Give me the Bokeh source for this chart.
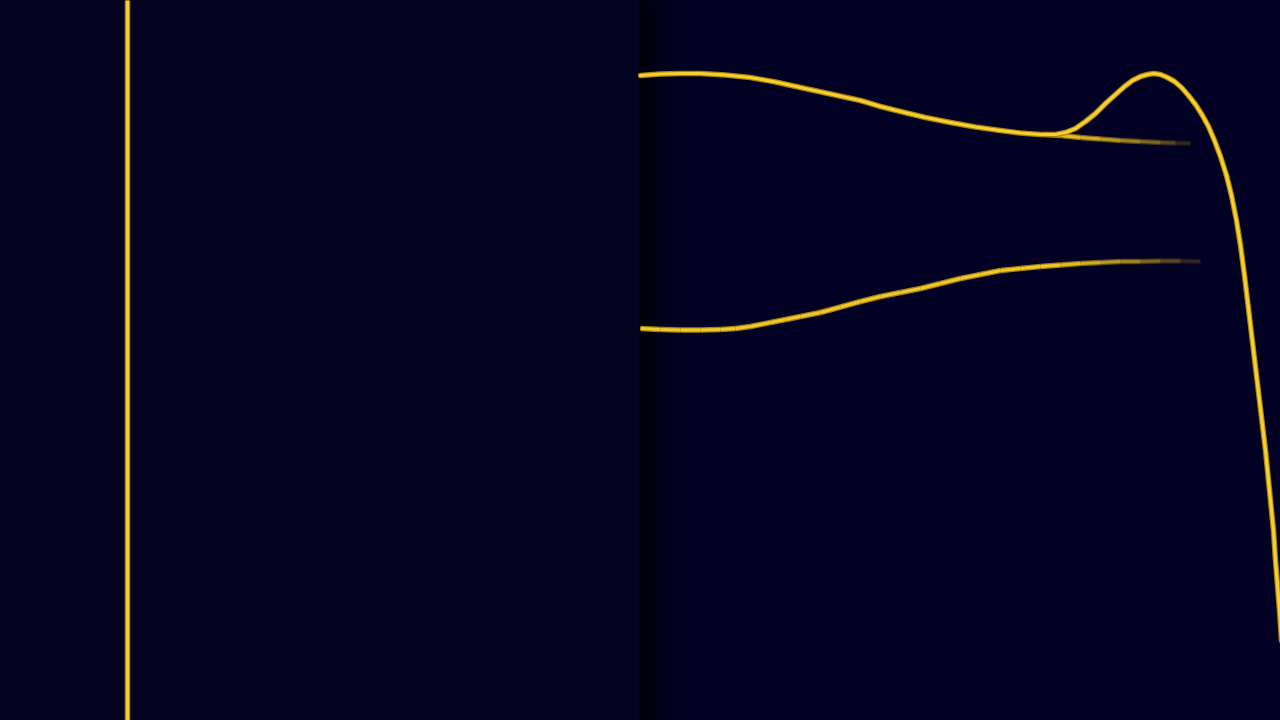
from bokeh.plotting import figure
from bokeh.models import Range1d
from bokeh.embed import file_html
from bokeh.resources import INLINE

# Data (screen-pixel coordinate system, y downward)
left_line_x = [127, 127]
left_line_y = [-5, 725]

upper_x = [640, 660, 680, 700, 725, 750, 775, 800, 830, 860, 880, 900, 925, 950, 975, 1000,
           1020, 1040, 1055, 1065, 1075, 1085, 1095, 1105, 1115, 1124, 1132, 1140, 1147, 1153,
           1160, 1167, 1174, 1181, 1188, 1195, 1202, 1208, 1214, 1220, 1226, 1231, 1236, 1240,
           1244, 1247, 1250, 1253, 1256, 1259, 1262, 1265, 1268, 1270, 1273, 1275, 1277, 1279,
           1281]
upper_y = [75, 73.5, 73, 73, 74.5, 77, 81.5, 87, 93.5, 100, 106, 111, 117, 122, 126.5, 130,
           132.5, 134, 134, 132, 128, 121, 113, 103, 94, 86, 80, 76, 74, 73,
           74, 77, 81, 87, 95, 104, 115, 126, 140, 156, 175, 195, 220, 245,
           275, 300, 325, 350, 375, 400, 425, 450, 480, 500, 530, 560, 585, 610,
           640]

branch_x = [1045, 1060, 1080, 1100, 1120, 1140, 1160, 1175, 1190]
branch_y = [134, 135, 137, 138.5, 140, 141, 142, 142.5, 143]

lower_x = [640, 660, 680, 700, 720, 735, 750, 770, 785, 800, 820, 840, 860, 880, 900, 920,
           940, 960, 980, 1000, 1020, 1040, 1060, 1080, 1100, 1120, 1140, 1160, 1180, 1200]
lower_y = [328, 329, 329.5, 329.5, 329, 328, 326, 322, 319, 316, 312, 306.5, 301, 296, 292, 288,
           283, 278, 274, 270, 268, 266, 264.5, 263, 262, 261, 261, 260.5, 260.5, 261]

BG = "#04031f"
BG_R = "#020124"
GOLD_DARK = "#a88408"
GOLD = "#f6cf34"

p = figure(width=1280, height=720, output_backend="svg", toolbar_location=None,
           x_range=Range1d(0, 1280), y_range=Range1d(720, 0),
           background_fill_color=BG, border_fill_color=BG, min_border=0)
p.axis.visible = False
p.grid.visible = False
p.outline_line_color = None

# right panel background and shadow band at the panel seam
p.quad(left=639, right=1300, bottom=740, top=-20, fill_color=BG_R, line_color=None)
shadow_l = [639, 645, 651, 657, 663, 669, 675]
shadow_a = [0.8, 0.7, 0.55, 0.4, 0.26, 0.14, 0.06]
p.quad(left=shadow_l, right=[s + 6 for s in shadow_l], bottom=740, top=-20,
       fill_color="#000008", fill_alpha=shadow_a, line_color=None)

def glow_line(xs, ys, alpha=1.0):
    p.line(xs, ys, line_color=GOLD_DARK, line_width=5.5, line_alpha=alpha, line_cap="round", line_join="round")
    p.line(xs, ys, line_color=GOLD, line_width=3.2, line_alpha=alpha, line_cap="round", line_join="round")

def fading_line(xs, ys, fade_from):
    n = len(xs) - 1
    segx, segy, alph = [], [], []
    for i in range(n):
        segx.append([xs[i], xs[i + 1]])
        segy.append([ys[i], ys[i + 1]])
        if i < fade_from:
            alph.append(1.0)
        else:
            alph.append(max(0.0, 1.0 - (i - fade_from + 1) / (n - fade_from + 1)))
    p.multi_line(segx, segy, line_color=GOLD_DARK, line_width=5.5, line_alpha=alph, line_cap="butt")
    p.multi_line(segx, segy, line_color=GOLD, line_width=3.2, line_alpha=[a * 0.9 for a in alph], line_cap="butt")

glow_line(left_line_x, left_line_y)
fading_line(branch_x, branch_y, 1)
fading_line(lower_x, lower_y, 22)
glow_line(upper_x, upper_y)

html = file_html(p, INLINE)
html = html.replace("</head>", "<style>html,body{background:%s;}</style></head>" % BG, 1)
open("out.html", "w").write(html)
